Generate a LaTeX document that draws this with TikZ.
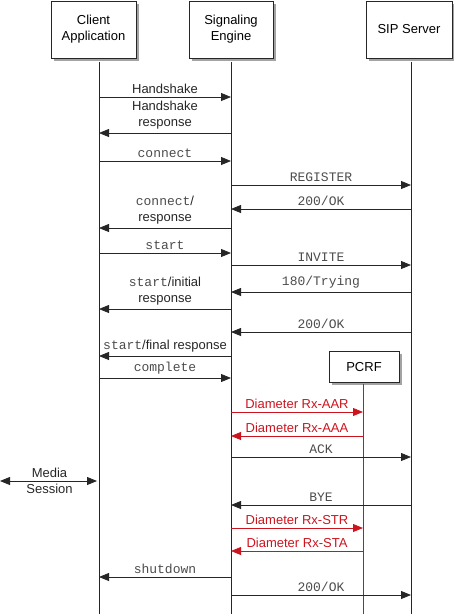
\documentclass[tikz,border=0pt]{standalone}
\usepackage{fontspec}
\setmainfont{Liberation Sans}
\setmonofont{Liberation Mono}
\usetikzlibrary{arrows.meta,shadows}
\definecolor{rxred}{RGB}{204,20,30}

\begin{document}
\begin{tikzpicture}[x=1pt, y=1pt, >={Triangle[length=10pt,width=8pt]}, line width=0.8pt,
    entity/.style={draw=black!85, fill=white, minimum height=57pt, align=center,
        font=\fontsize{13}{16}\selectfont,
        drop shadow={shadow xshift=2.5pt, shadow yshift=-2.5pt, fill=black!45, opacity=0.8}},
    lbl/.style={font=\fontsize{13}{16}\selectfont, align=center, inner sep=3pt},
    rx/.style={draw=rxred, text=rxred, font=\fontsize{11.5}{14}\selectfont}]
    \useasboundingbox (0,0) rectangle (454,-614);

    % participants
    \node[entity, minimum width=85pt] (client) at (93.5,-29.5) {Client\\Application};
    \node[entity, minimum width=84pt] (engine) at (231,-29.5) {Signaling\\Engine};
    \node[entity, minimum width=86pt] (server) at (409,-29.5) {SIP Server};
    \node[entity, minimum width=70pt, minimum height=31pt] (pcrf) at (364,-367) {PCRF};

    % lifelines
    \coordinate (cl) at (99,-62);
    \coordinate (se) at (231,-62);
    \coordinate (sip) at (411,-62);
    \coordinate (pc) at (363,-384);
    \draw[black!85] (cl) -- (cl |- 0,-614);
    \draw[black!85] (se) -- (se |- 0,-614);
    \draw[black!85] (sip) -- (sip |- 0,-614);
    \draw[rxred] (pc) -- (pc |- 0,-614);

    \newcommand{\msg}[5][]{
        \draw[->, black!85, #1] (#2 |- 0,-#4) -- (#3 |- 0,-#4) node[midway, above, lbl] {#5};
    }
    \newcommand{\mono}[1]{{\color{black!70}\texttt{#1}}}

    \msg{cl}{se}{97}{Handshake}
    \msg{se}{cl}{133}{Handshake\\response}
    \msg{cl}{se}{161}{\mono{connect}}
    \msg{se}{sip}{185}{\mono{REGISTER}}
    \msg{sip}{se}{209}{\mono{200/OK}}
    \msg{se}{cl}{228}{\mono{connect}/\\response}
    \msg{cl}{se}{253}{\mono{start}}
    \msg{se}{sip}{265}{\mono{INVITE}}
    \msg{sip}{se}{292}{\mono{180/Trying}}
    \msg{se}{cl}{309}{\mono{start}/initial\\response}
    \msg{sip}{se}{332}{\mono{200/OK}}
    \msg{se}{cl}{356}{\mono{start}/final response}
    \msg{cl}{se}{378}{\mono{complete}}
    \msg[rx]{se}{pc}{412}{Diameter Rx-AAR}
    \msg[rx]{pc}{se}{436}{Diameter Rx-AAA}
    \msg{se}{sip}{457}{\mono{ACK}}
    \msg{sip}{se}{505}{\mono{BYE}}
    \msg[rx]{se}{pc}{528}{Diameter Rx-STR}
    \msg[rx]{pc}{se}{551}{Diameter Rx-STA}
    \msg{se}{cl}{577}{\mono{shutdown}}
    \msg{se}{sip}{595}{\mono{200/OK}}

    % media session
    \coordinate (media) at (0,-481);
    \draw[<->, black!85, shorten >=2pt] (media) -- (cl |- media)
        node[midway, above, lbl] {Media} node[midway, below, lbl] {Session};
\end{tikzpicture}
\end{document}
